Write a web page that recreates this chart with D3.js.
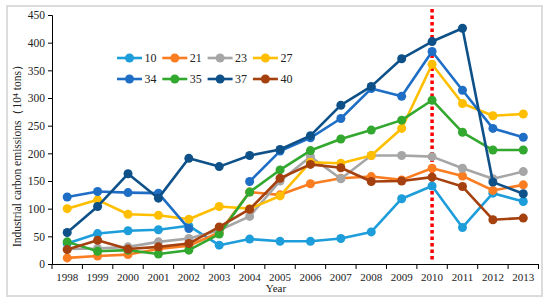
<!DOCTYPE html>
<html>
<head>
<meta charset="utf-8">
<script src="https://cdn.jsdelivr.net/npm/d3@7"></script>
<style>
    body { margin: 0; background: #fff; }
    svg text { font-family: "Liberation Serif", "Times New Roman", serif; fill: #222; }
</style>
</head>
<body>
<svg id="chart" width="550" height="305"></svg>
<script>
// data
var years = [1998, 1999, 2000, 2001, 2002, 2003, 2004, 2005, 2006, 2007, 2008, 2009, 2010, 2011, 2012, 2013];
var yTicks = [0, 50, 100, 150, 200, 250, 300, 350, 400, 450];
var seriesNames = ["10", "21", "23", "27", "34", "35", "37", "40"];

var s10 = [37, 55, 60, 62, 69, 34, 45, 41, 41, 46, 58, 118, 141, 66, 128, 113];
var s21 = [11, 14.5, 17, 27, 33, 57, 130, 125, 145, 155, 158, 152, 173, 159, 133, 143];
var s23 = [27, 28, 31, 40, 46, 61, 86, 150, 194, 154, 196, 196, 194, 173, 154, 167];
var s27 = [100, 116, 90, 88, 81, 104, 100, 123, 184, 182, 196, 245, 361, 290, 268, 271];
var s34 = [121, 131, 129, 128, 64, null, 149, 204, 228, 263, 317, 303, 384, 314, 245, 229];
var s35 = [40, 23, 25, 18, 25, 54, 130, 170, 205, 226, 242, 260, 296, 238, 206, 206];
var s37 = [57, 104, 163, 119, 191, 176, 196, 207, 232, 287, 321, 371, 402, 426, 148, 127];
var s40 = [26, 43, 27, 31, 37, 67, 99, 155, 180, 174, 149, 150, 157, 140, 80, 83];

var seriesValues = [s10, s21, s23, s27, s34, s35, s37, s40];
var colors = ["#1e9ddb", "#fb7d21", "#a6a6a6", "#ffbf00", "#1f6ec6", "#33a82f", "#0e5189", "#a5400f"];
var markYear = 2010;

var svg = d3.select("#chart");

// outer frame
svg.append("rect")
    .attr("x", 7).attr("y", 6)
    .attr("width", 535).attr("height", 290)
    .attr("fill", "none")
    .attr("stroke", "#dcdcdc")
    .attr("stroke-width", 2);

var plotLeft = 52, plotRight = 538.5, plotTop = 15, plotBottom = 264;

var x = d3.scaleBand().domain(years).range([plotLeft, plotRight]);
var y = d3.scaleLinear().domain([0, 450]).range([plotBottom, plotTop]);
var cx = function(yr) { return x(yr) + x.bandwidth() / 2; };

// y axis
var yAxis = svg.append("g")
    .attr("transform", "translate(" + plotLeft + ",0)")
    .call(d3.axisLeft(y).tickValues(yTicks).tickSize(4).tickPadding(3));
yAxis.selectAll("text").style("font-size", "11.5px");
yAxis.selectAll("line, path").attr("stroke", "#000");

// x axis: labels centred, ticks on band edges
var xAxis = svg.append("g")
    .attr("transform", "translate(0," + plotBottom + ")")
    .call(d3.axisBottom(x).tickSize(0).tickPadding(9).tickFormat(d3.format("d")));
xAxis.select(".domain").attr("stroke", "#000");
xAxis.selectAll("text").style("font-size", "11px");

var edges = years.map(function(yr) { return x(yr); }).concat([plotRight]);
svg.append("g").selectAll("line")
    .data(edges)
    .enter().append("line")
    .attr("x1", function(d) { return d; })
    .attr("x2", function(d) { return d; })
    .attr("y1", plotBottom)
    .attr("y2", plotBottom + 5)
    .attr("stroke", "#000");

// axis titles
svg.append("text")
    .attr("x", 276)
    .attr("y", 292)
    .attr("text-anchor", "middle")
    .style("font-size", "11px")
    .text("Year");

svg.append("text")
    .attr("transform", "translate(21,153) rotate(-90)")
    .attr("text-anchor", "middle")
    .style("font-size", "11.5px")
    .text("Industrial carbon emissions（10\u2074 tons）");

// red dotted marker line
svg.append("line")
    .attr("x1", cx(markYear)).attr("x2", cx(markYear))
    .attr("y1", 9).attr("y2", plotBottom - 2)
    .attr("stroke", "#ff0000")
    .attr("stroke-width", 3.5)
    .attr("stroke-dasharray", "3.5,3");

// series
var line = d3.line()
    .defined(function(d) { return d != null; })
    .x(function(d, i) { return cx(years[i]); })
    .y(function(d) { return y(d); });

seriesValues.forEach(function(vals, k) {
    var g = svg.append("g");
    g.append("path")
        .datum(vals)
        .attr("d", line)
        .attr("fill", "none")
        .attr("stroke", colors[k])
        .attr("stroke-width", 2.6)
        .attr("stroke-linejoin", "round");
    g.selectAll("circle")
        .data(vals.map(function(v, i) { return {v: v, yr: years[i]}; })
                  .filter(function(d) { return d.v != null; }))
        .enter().append("circle")
        .attr("cx", function(d) { return cx(d.yr); })
        .attr("cy", function(d) { return y(d.v); })
        .attr("r", 4.5)
        .attr("fill", colors[k]);
});

// legend, two rows of four
var legend = svg.append("g");
seriesNames.forEach(function(name, k) {
    var lx = 117 + (k % 4) * 45.3;
    var ly = k < 4 ? 58 : 79;
    var item = legend.append("g").attr("transform", "translate(" + lx + "," + ly + ")");
    item.append("line")
        .attr("x1", 0).attr("x2", 25)
        .attr("stroke", colors[k])
        .attr("stroke-width", 2.6);
    item.append("circle")
        .attr("cx", 12.5).attr("r", 4.5)
        .attr("fill", colors[k]);
    item.append("text")
        .attr("x", 27.5).attr("y", 4)
        .style("font-size", "12px")
        .text(name);
});
</script>
</body>
</html>
